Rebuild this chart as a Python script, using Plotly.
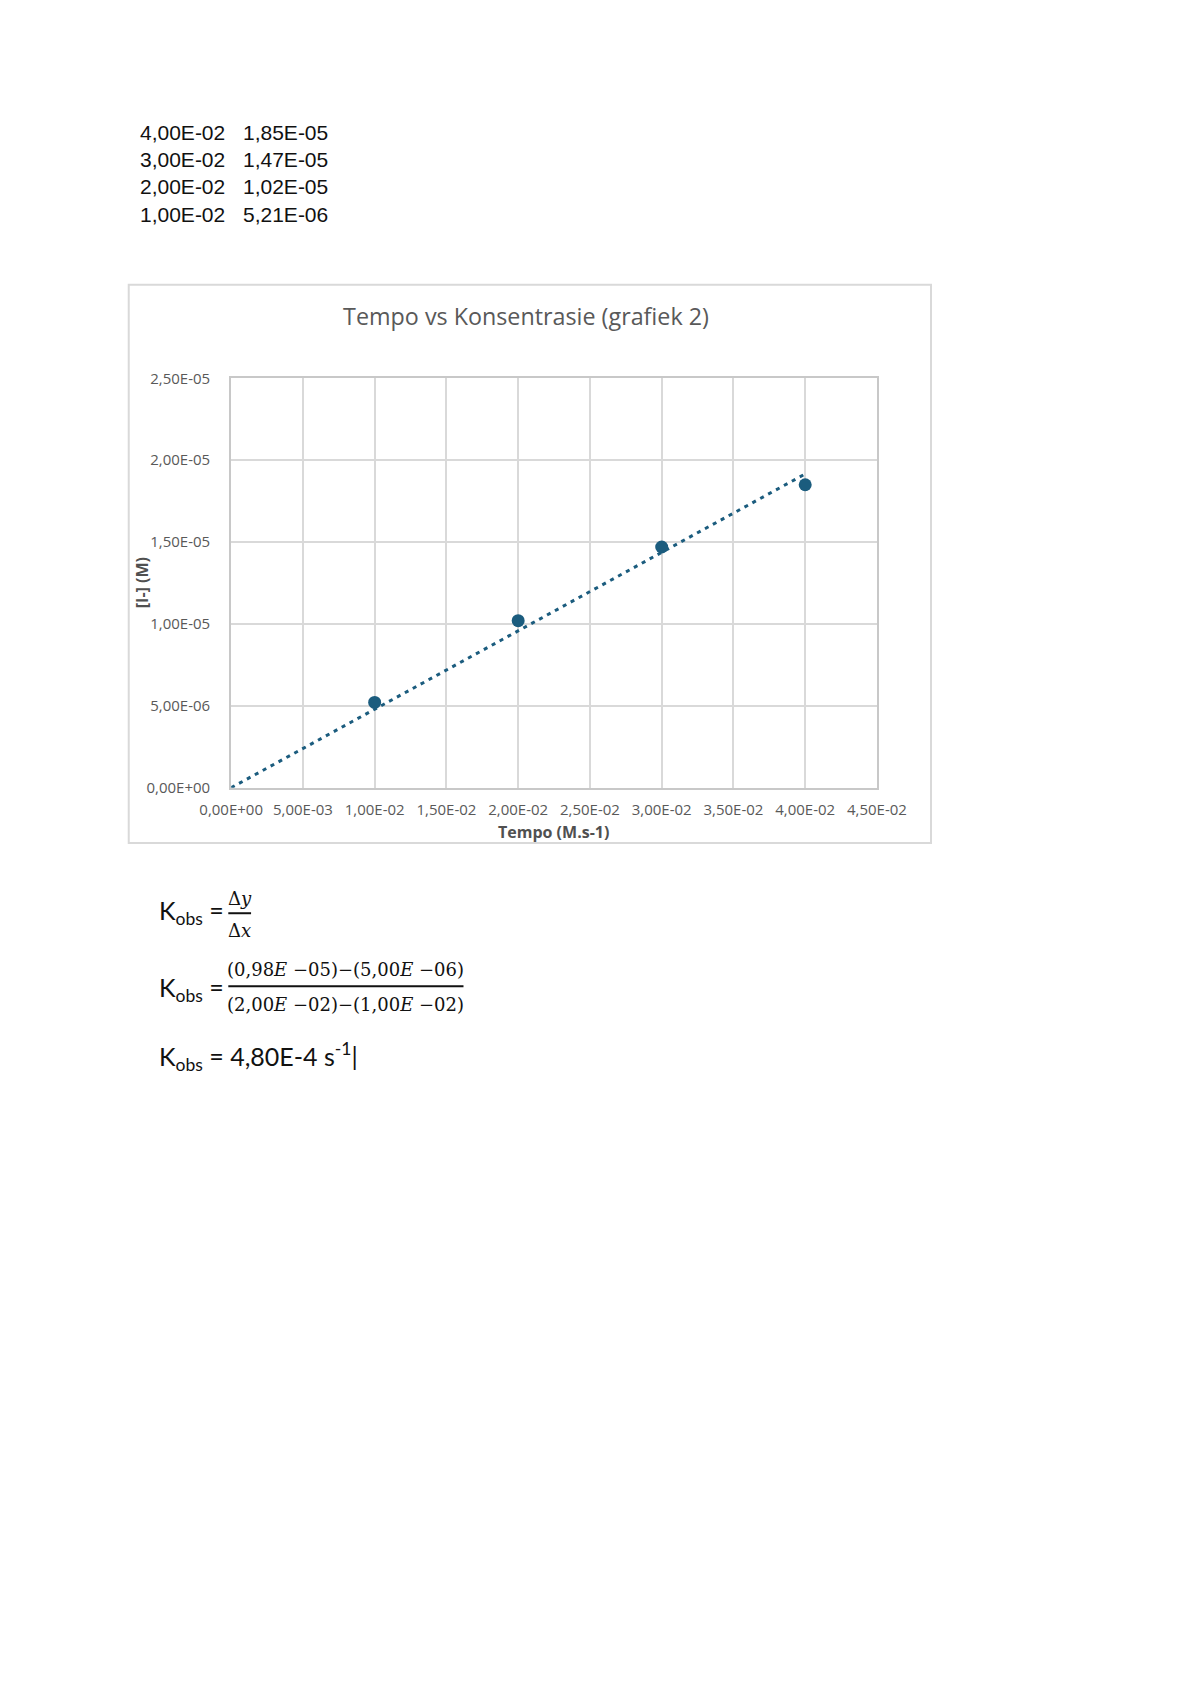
import numpy as np
import plotly.graph_objects as go

# ---- data ----
x_vals = [0.01, 0.02, 0.03, 0.04]          # Tempo (M.s-1)
y_vals = [5.21e-06, 1.02e-05, 1.47e-05, 1.85e-05]  # [I-] (M)

x_tickvals = [0.0, 0.005, 0.01, 0.015, 0.02, 0.025, 0.03, 0.035, 0.04, 0.045]
x_ticktext = ["0,00E+00", "5,00E-03", "1,00E-02", "1,50E-02", "2,00E-02",
              "2,50E-02", "3,00E-02", "3,50E-02", "4,00E-02", "4,50E-02"]
y_tickvals = [0.0, 5e-06, 1e-05, 1.5e-05, 2e-05, 2.5e-05]
y_ticktext = ["0,00E+00", "5,00E-06", "1,00E-05", "1,50E-05", "2,00E-05", "2,50E-05"]

title_text = "Tempo vs Konsentrasie (grafiek 2)"
x_title = "Tempo (M.s-1)"
y_title = "[I-] (M)"

# ---- layout helpers (pixel -> paper) ----
W, H = 1200, 1696
def px(x):
    return x / W
def py(y):
    return 1 - y / H

COLOR = "#1B5C7E"
GRID = "#D9D9D9"
SANS = "Open Sans, Noto Sans, sans-serif"

# linear trendline through origin (Excel trendline, intercept = 0)
xa = np.array(x_vals)
ya = np.array(y_vals)
slope = float((xa * ya).sum() / (xa * xa).sum())
trend_x = [0.0, max(x_vals)]
trend_y = [slope * v for v in trend_x]

fig = go.Figure()
fig.add_trace(go.Scatter(
    x=trend_x, y=trend_y, mode="lines",
    line=dict(color=COLOR, width=3, dash="4px,5px"),
    hoverinfo="skip", showlegend=False))
fig.add_trace(go.Scatter(
    x=x_vals, y=y_vals, mode="markers",
    marker=dict(color=COLOR, size=13),
    showlegend=False))

tick_font = dict(family=SANS, size=15, color="#595959")

fig.update_layout(
    width=W, height=H,
    margin=dict(l=0, r=0, t=0, b=0),
    paper_bgcolor="white", plot_bgcolor="white",
    showlegend=False,
    title=dict(text=title_text, x=px(526), xanchor="center",
               y=py(317), yanchor="middle",
               font=dict(family=SANS, size=23.3, color="#595959")),
    xaxis=dict(domain=[px(210), px(891)], range=[0, 0.045],
               tickmode="array", tickvals=x_tickvals, ticktext=x_ticktext,
               showgrid=True, gridcolor=GRID, gridwidth=2,
               showline=True, linecolor="#C8C8C8", linewidth=2, mirror=True,
               zeroline=False, ticks="", ticklabelstandoff=7,
               tickfont=tick_font),
    yaxis=dict(domain=[py(786), py(371.7)], range=[0, 2.5e-05],
               tickmode="array", tickvals=y_tickvals, ticktext=y_ticktext,
               showgrid=True, gridcolor=GRID, gridwidth=2,
               showline=True, linecolor="#C8C8C8", linewidth=2, mirror=True,
               zeroline=False, ticks="", ticklabelstandoff=16,
               tickfont=tick_font),
)

# axis titles
fig.add_annotation(text="<b>" + x_title + "</b>", xref="paper", yref="paper",
                   x=px(550), y=py(831), xanchor="center", yanchor="middle",
                   showarrow=False, font=dict(family=SANS, size=16, color="#505050"))
fig.add_annotation(text="<b>" + y_title + "</b>", xref="paper", yref="paper",
                   x=px(116), y=py(579), xanchor="center", yanchor="middle",
                   textangle=-90, showarrow=False,
                   font=dict(family=SANS, size=16, color="#505050"))

# chart area border
fig.add_shape(type="rect", xref="paper", yref="paper",
              x0=px(102), x1=px(948), y0=py(842), y1=py(277),
              line=dict(color=GRID, width=2), fillcolor="rgba(0,0,0,0)", layer="below")

# ---- data table above the chart ----
def fmt(v):
    return f"{v:.2E}".replace(".", ",")

table_font = dict(family="Liberation Sans, Arial, sans-serif", size=21, color="#111111")
rows = list(zip(x_vals, y_vals))[::-1]
row_y = [123, 150.5, 178, 205.5]
for (xv, yv), ry in zip(rows, row_y):
    fig.add_annotation(text=fmt(xv), xref="paper", yref="paper", x=px(112), y=py(ry),
                       xanchor="left", yanchor="middle", showarrow=False, font=table_font)
    fig.add_annotation(text=fmt(yv), xref="paper", yref="paper", x=px(220), y=py(ry),
                       xanchor="left", yanchor="middle", showarrow=False, font=table_font)

# ---- formulas below the chart ----
k_font = dict(family="Lato, Noto Sans, sans-serif", size=25, color="#111111")
m_font = dict(family="DejaVu Serif, Liberation Serif, serif", size=18, color="#111111")
kobs = "K<sub>obs</sub> ="

# line 1: Kobs = Δy/Δx
fig.add_annotation(text=kobs, xref="paper", yref="paper", x=px(132), y=py(912),
                   xanchor="left", yanchor="middle", showarrow=False, font=k_font)
fig.add_annotation(text="Δ<i>y</i>", xref="paper", yref="paper", x=px(219), y=py(898),
                   xanchor="center", yanchor="middle", showarrow=False, font=m_font)
fig.add_annotation(text="Δ<i>x</i>", xref="paper", yref="paper", x=px(219), y=py(930),
                   xanchor="center", yanchor="middle", showarrow=False, font=m_font)
fig.add_shape(type="line", xref="paper", yref="paper", x0=px(207), x1=px(231),
              y0=py(913), y1=py(913), line=dict(color="#111111", width=2))

# line 2: explicit fraction
fig.add_annotation(text=kobs, xref="paper", yref="paper", x=px(132), y=py(990),
                   xanchor="left", yanchor="middle", showarrow=False, font=k_font)
fig.add_annotation(text="(0,98<i>E</i> −05)−(5,00<i>E</i> −06)", xref="paper", yref="paper",
                   x=px(331), y=py(970), xanchor="center", yanchor="middle",
                   showarrow=False, font=m_font)
fig.add_annotation(text="(2,00<i>E</i> −02)−(1,00<i>E</i> −02)", xref="paper", yref="paper",
                   x=px(331), y=py(1005), xanchor="center", yanchor="middle",
                   showarrow=False, font=m_font)
fig.add_shape(type="line", xref="paper", yref="paper", x0=px(207), x1=px(455),
              y0=py(987), y1=py(987), line=dict(color="#111111", width=2))

# line 3: result
fig.add_annotation(text=kobs + " 4,80E-4 s<sup>-1</sup>|", xref="paper", yref="paper",
                   x=px(132), y=py(1058), xanchor="left", yanchor="middle",
                   showarrow=False, font=k_font)

fig.write_html("out.html", config={"displayModeBar": False},
               post_script="document.body.style.margin='0px';")
